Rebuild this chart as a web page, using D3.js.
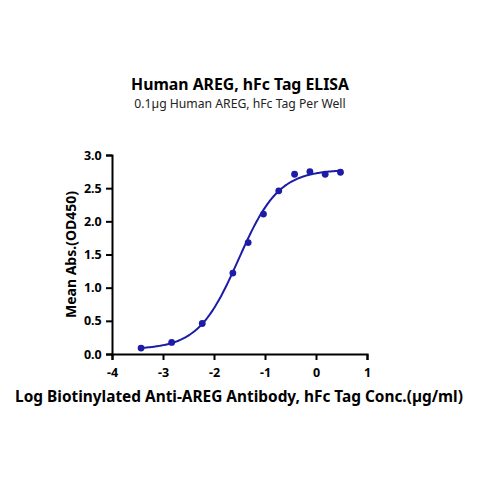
<!DOCTYPE html>
<html>
<head>
<meta charset="utf-8">
<script src="https://cdn.jsdelivr.net/npm/d3@7"></script>
<style>
  body { margin: 0; background: #fff; }
  svg text { font-family: "Noto Sans", "DejaVu Sans", sans-serif; }
</style>
</head>
<body>
<div id="chart"></div>
<script>
// ELISA points: log concentration vs mean absorbance
const logConc = [-3.43, -2.83, -2.23, -1.63, -1.33, -1.03, -0.73, -0.42, -0.12, 0.18, 0.48]
const meanAbs = [0.09, 0.175, 0.46, 1.22, 1.68, 2.11, 2.46, 2.71, 2.75, 2.71, 2.74]

// 4PL fit parameters (bottom, top, logEC50, hill)
const fitParams = [0.07, 2.78, -1.52, 1.1]

const xTicks = [-4, -3, -2, -1, 0, 1]
const yTicks = [0, 0.5, 1, 1.5, 2, 2.5, 3]

const title = 'Human AREG, hFc Tag ELISA'
const subtitle = '0.1µg Human AREG, hFc Tag Per Well'
const xLabel = 'Log Biotinylated Anti-AREG Antibody, hFc Tag Conc.(µg/ml)'
const yLabel = 'Mean Abs.(OD450)'

const width = 480, height = 480
const margin = { top: 155, right: 113, bottom: 126, left: 112 }
const color = '#1c1ca6'

const svg = d3.select('#chart')
  .append('svg')
  .attr('width', width)
  .attr('height', height)

const x = d3.scaleLinear().domain([-4, 1]).range([margin.left, width - margin.right])
const y = d3.scaleLinear().domain([0, 3]).range([height - margin.bottom, margin.top])

// axes (plain hyphen for negatives, like the original)
const xAxis = svg.append('g')
  .attr('transform', `translate(0, ${y(0)})`)
  .call(d3.axisBottom(x).tickValues(xTicks).tickFormat(d => String(d)).tickSizeOuter(0).tickSize(6))
const yAxis = svg.append('g')
  .attr('transform', `translate(${x(-4)}, 0)`)
  .call(d3.axisLeft(y).tickValues(yTicks).tickFormat(d => d.toFixed(1)).tickSizeOuter(0).tickSize(6))

;[xAxis, yAxis].forEach(a => {
  a.select('.domain').attr('stroke', '#000').attr('stroke-width', 2)
  a.selectAll('.tick line').attr('stroke', '#000').attr('stroke-width', 2)
  a.selectAll('.tick text')
    .attr('fill', '#000')
    .attr('font-size', 12.5)
    .attr('font-weight', 'bold')
    .style('font-family', '"Noto Sans", sans-serif')
})
xAxis.selectAll('.tick text').attr('dy', '1.1em')
yAxis.selectAll('.tick text').attr('dx', '-0.1em')

// fitted curve
const fourPL = v => {
  const [b, t, ec, h] = fitParams
  return b + (t - b) / (1 + Math.pow(10, (ec - v) * h))
}
const curveX = d3.range(logConc[0], logConc[logConc.length - 1] + 0.001, 0.02)
svg.append('path')
  .datum(curveX)
  .attr('fill', 'none')
  .attr('stroke', color)
  .attr('stroke-width', 2)
  .attr('d', d3.line().x(d => x(d)).y(d => y(fourPL(d))))

// data points
svg.selectAll('.pt')
  .data(logConc)
  .join('circle')
  .attr('class', 'pt')
  .attr('cx', d => x(d))
  .attr('cy', (d, i) => y(meanAbs[i]))
  .attr('r', 3.4)
  .attr('fill', color)

// titles
svg.append('text')
  .attr('x', 240).attr('y', 90)
  .attr('text-anchor', 'middle')
  .attr('font-size', 15.8).attr('font-weight', 'bold')
  .text(title)
svg.append('text')
  .attr('x', 240).attr('y', 108)
  .attr('text-anchor', 'middle')
  .attr('font-size', 12.2)
  .attr('fill', '#222')
  .text(subtitle)

svg.append('text')
  .attr('x', 239).attr('y', 402)
  .attr('text-anchor', 'middle')
  .attr('font-size', 15.4).attr('font-weight', 'bold')
  .text(xLabel)

svg.append('text')
  .attr('transform', `translate(76, ${(y(0) + y(3)) / 2}) rotate(-90)`)
  .attr('text-anchor', 'middle')
  .attr('font-size', 14).attr('font-weight', 'bold')
  .text(yLabel)
</script>
</body>
</html>
